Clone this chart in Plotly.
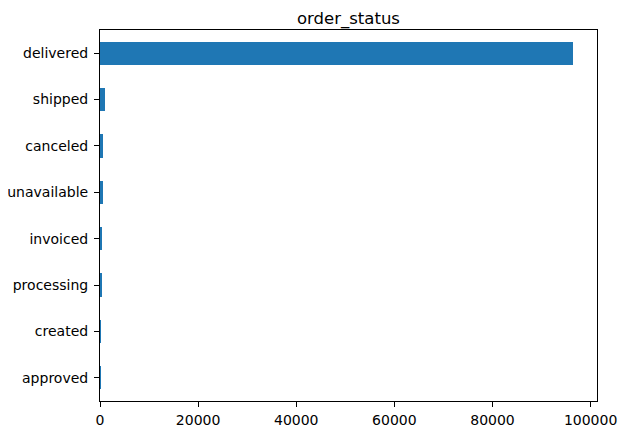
import plotly.graph_objects as go

statuses = ["delivered", "shipped", "canceled", "unavailable",
            "invoiced", "processing", "created", "approved"]
counts = [96478, 1107, 625, 609, 314, 301, 5, 2]

font = "DejaVu Sans"
xmax = max(counts) * 1.05

# page body has an 8px margin, so shrink the figure to fit the window
W, H, off = 626 - 8, 435 - 8, 8

fig = go.Figure()
fig.add_trace(go.Bar(
    x=counts, y=statuses, orientation="h",
    marker=dict(color="#1f77b4", line=dict(width=0)),
    width=0.5
))

fig.update_layout(
    width=W, height=H,
    margin=dict(l=100 - off, r=29, t=30 - off, b=34),
    plot_bgcolor="white", paper_bgcolor="white",
    font=dict(family=font, size=14, color="black"),
    showlegend=False,
    bargap=0,
    title=dict(text="order_status", x=(348.5 - off) / W, xanchor="center",
               y=1 - (18 - off) / H, yanchor="middle",
               font=dict(family=font, size=16.5, color="black")),
)
fig.update_xaxes(
    range=[0, xmax], tickvals=[0, 20000, 40000, 60000, 80000, 100000],
    tickformat="d", showgrid=False, zeroline=False, automargin=False,
    showline=True, linecolor="black", linewidth=1, mirror=True,
    ticks="outside", ticklen=5, tickcolor="black", ticklabelstandoff=1,
)
fig.update_yaxes(
    categoryorder="array", categoryarray=statuses[::-1],
    range=[-0.5, len(statuses) - 0.5], showgrid=False, zeroline=False,
    automargin=False,
    showline=True, linecolor="black", linewidth=1, mirror=True,
    ticks="outside", ticklen=5, tickcolor="black", ticklabelstandoff=3,
)

fig.write_html("out.html")
